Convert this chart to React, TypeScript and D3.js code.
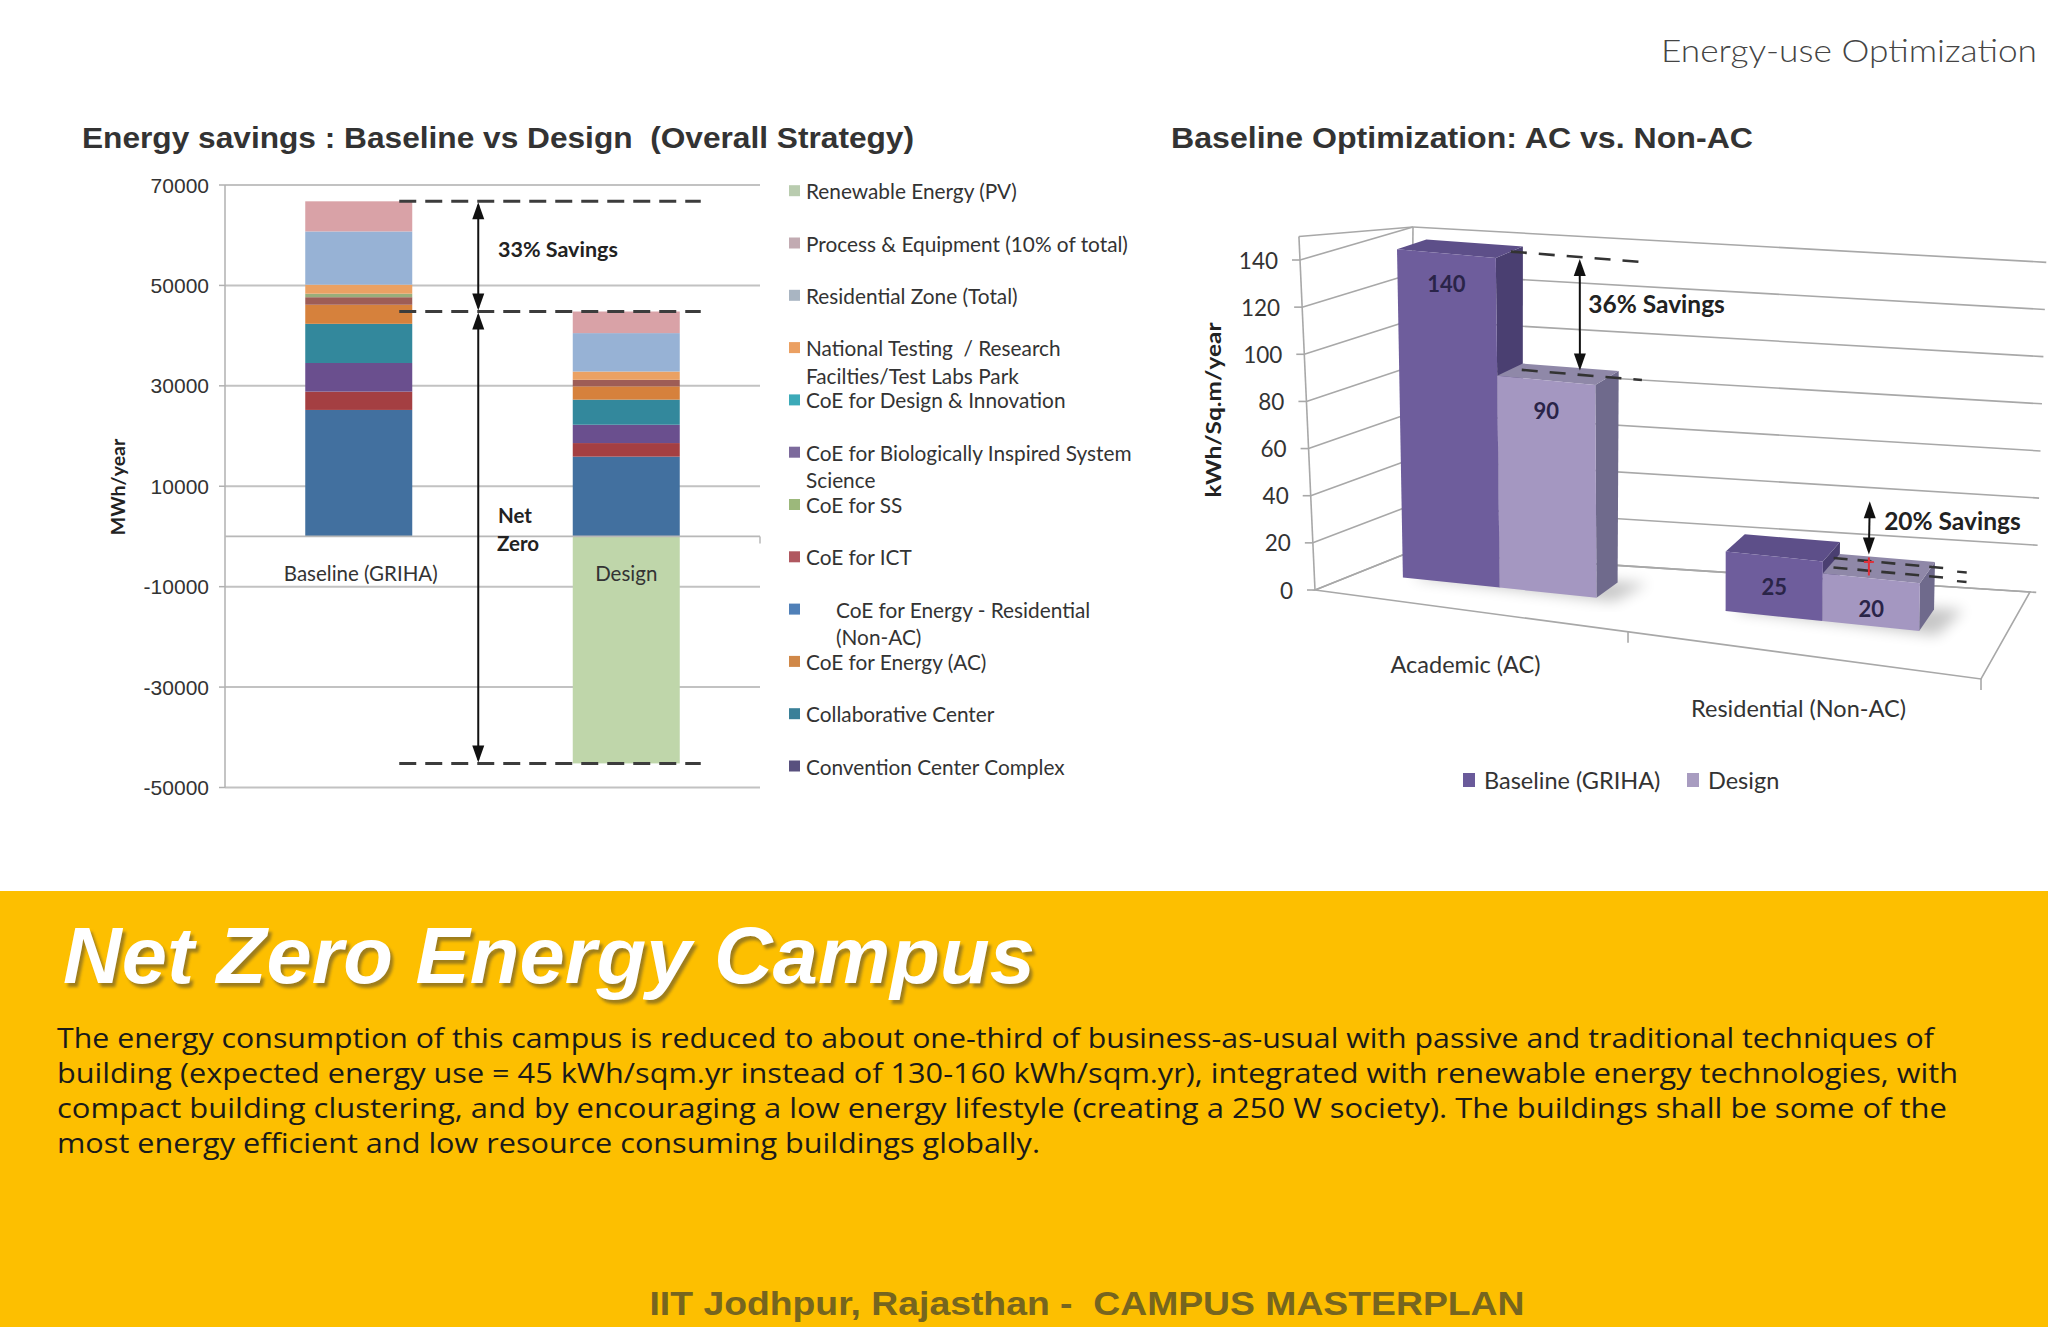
import React from "react";
import * as d3 from "d3";

// ---------------- LEFT CHART DATA ----------------
const stackCategories = ["Baseline (GRIHA)", "Design"];
const stackSeries = [
  "CoE for Energy - Residential (Non-AC)",
  "CoE for ICT",
  "CoE for Biologically Inspired System Science",
  "Collaborative Center",
  "CoE for Energy (AC)",
  "Convention Center Complex",
  "CoE for SS",
  "CoE for Design & Innovation",
  "National Testing / Research Facilties/Test Labs Park",
  "Residential Zone (Total)",
  "Process & Equipment (10% of total)",
  "Renewable Energy (PV)",
];
const baselineValues = [25200, 3650, 5700, 7800, 3800, 1500, 700, 0, 1800, 10600, 6000, 0];
const designValues = [15900, 2700, 3650, 5000, 2650, 1300, 0, 0, 1650, 7650, 4300, -45200];
const leftTicks = [70000, 50000, 30000, 10000, -10000, -30000, -50000];

const legendItems = [
  { key: "Renewable Energy (PV)", lines: ["Renewable Energy (PV)"] },
  { key: "Process & Equipment (10% of total)", lines: ["Process & Equipment (10% of total)"] },
  { key: "Residential Zone (Total)", lines: ["Residential Zone (Total)"] },
  { key: "National Testing / Research Facilties/Test Labs Park", lines: ["National Testing  / Research", "Facilties/Test Labs Park"] },
  { key: "CoE for Design & Innovation", lines: ["CoE for Design & Innovation"] },
  { key: "CoE for Biologically Inspired System Science", lines: ["CoE for Biologically Inspired System", "Science"] },
  { key: "CoE for SS", lines: ["CoE for SS"] },
  { key: "CoE for ICT", lines: ["CoE for ICT"] },
  { key: "CoE for Energy - Residential (Non-AC)", lines: ["CoE for Energy - Residential", "(Non-AC)"] },
  { key: "CoE for Energy (AC)", lines: ["CoE for Energy (AC)"] },
  { key: "Collaborative Center", lines: ["Collaborative Center"] },
  { key: "Convention Center Complex", lines: ["Convention Center Complex"] },
];

// ---------------- RIGHT CHART DATA ----------------
const acCategories = ["Academic (AC)", "Residential (Non-AC)"];
const acSeries = ["Baseline (GRIHA)", "Design"];
const acBaseline = [140, 25];
const acDesign = [90, 20];
const acTicks = [0, 20, 40, 60, 80, 100, 120, 140];

// ---------------- STYLES ----------------
const barColors: Record<string, string> = {
  "CoE for Energy - Residential (Non-AC)": "#42709f",
  "CoE for ICT": "#a43f42",
  "CoE for Biologically Inspired System Science": "#6a4f8e",
  "Collaborative Center": "#33889c",
  "CoE for Energy (AC)": "#d6813c",
  "Convention Center Complex": "#9e5d56",
  "CoE for SS": "#9aae7b",
  "CoE for Design & Innovation": "#3eaab6",
  "National Testing / Research Facilties/Test Labs Park": "#eba163",
  "Residential Zone (Total)": "#97b2d5",
  "Process & Equipment (10% of total)": "#d9a2a7",
  "Renewable Energy (PV)": "#bfd6aa",
};
const legendColors: Record<string, string> = {
  "Renewable Energy (PV)": "#b9ccaf",
  "Process & Equipment (10% of total)": "#c2abb2",
  "Residential Zone (Total)": "#a9b5c2",
  "National Testing / Research Facilties/Test Labs Park": "#eba062",
  "CoE for Design & Innovation": "#3caab8",
  "CoE for Biologically Inspired System Science": "#7c6a9c",
  "CoE for SS": "#9cb87b",
  "CoE for ICT": "#b05860",
  "CoE for Energy - Residential (Non-AC)": "#5080b8",
  "CoE for Energy (AC)": "#d08848",
  "Collaborative Center": "#3a8098",
  "Convention Center Complex": "#58507e",
};
const barFaces: Record<string, { front: string; top: string; side: string; legend: string }> = {
  "Baseline (GRIHA)": { front: "#6e5d9c", top: "#5d4f89", side: "#4a3f71", legend: "#6a5a9a" },
  Design: { front: "#a497c1", top: "#8f88a8", side: "#6f6a8c", legend: "#a89cc0" },
};

const F_ARIAL = "'Liberation Sans', Arial, sans-serif";
const F_CAL = "Lato, 'Open Sans', sans-serif";
const INK = "#333";

type Pt = [number, number];
const lerp = (a: Pt, b: Pt, s: number): Pt => [a[0] + (b[0] - a[0]) * s, a[1] + (b[1] - a[1]) * s];

// 3D box corners (screen) for right chart: u across, z depth, v value
const BOX = {
  FLB: [1315, 590] as Pt,
  FRB: [1981, 679] as Pt,
  BLB: [1410, 552] as Pt,
  BRB: [2030, 592] as Pt,
  FLT: [1300, 260] as Pt,
  FRT: [1985, 337] as Pt,
  BLT: [1413, 227] as Pt,
  BRT: [2040, 262] as Pt,
};

export default function App() {
  // ---------- left chart ----------
  const yL = d3.scaleLinear().domain([-50000, 70000]).range([787.5, 185]);
  const xL = d3.scaleBand<string>().domain(stackCategories).range([225, 760]).paddingInner(0.6).paddingOuter(0.3);
  const rows = stackCategories.map((c, i) => {
    const r: any = { cat: c };
    stackSeries.forEach((s, j) => (r[s] = i === 0 ? baselineValues[j] : designValues[j]));
    return r;
  });
  const stacked = d3.stack<any>().keys(stackSeries).offset(d3.stackOffsetDiverging)(rows);
  const bw = xL.bandwidth();
  const baseTotal = d3.sum(baselineValues.filter((v) => v > 0));
  const designTotal = d3.sum(designValues.filter((v) => v > 0));
  const pvTotal = d3.sum(designValues.filter((v) => v < 0));
  const dashX0 = (xL(stackCategories[0]) as number) + bw - 13;
  const dashX1 = (xL(stackCategories[1]) as number) + bw + 21;
  const arrowX = (xL(stackCategories[0]) as number) + bw + 66;

  const arrowHead = (x: number, y: number, dir: 1 | -1) =>
    `M${x},${y} L${x - 6},${y + dir * 17} L${x + 6},${y + dir * 17} Z`;

  // ---------- right chart ----------
  const vR = d3.scaleLinear().domain([0, 140]).range([0, 1]);
  const proj = (u: number, z: number, v: number): Pt => {
    const t = vR(v);
    const fb = lerp(BOX.FLB, BOX.FRB, u);
    const bb = lerp(BOX.BLB, BOX.BRB, u);
    const ft = lerp(BOX.FLT, BOX.FRT, u);
    const bt = lerp(BOX.BLT, BOX.BRT, u);
    return lerp(lerp(fb, bb, z), lerp(ft, bt, z), t);
  };
  const poly = (pts: Pt[]) => pts.map((p) => `${p[0].toFixed(1)},${p[1].toFixed(1)}`).join(" ");
  const xR = d3.scaleBand<string>().domain(acCategories).range([-0.06, 1]).paddingInner(0.4).paddingOuter(0.26);
  const xSub = d3.scaleBand<string>().domain(acSeries).range([0, xR.bandwidth()]);
  const z0 = 0.45,
    z1 = 0.72;
  const bars = acCategories.flatMap((c, i) =>
    acSeries.map((s) => {
      const v = s === acSeries[0] ? acBaseline[i] : acDesign[i];
      const u0 = (xR(c) as number) + (xSub(s) as number);
      const u1 = u0 + xSub.bandwidth();
      return { c, s, v, u0, u1 };
    })
  );
  const boundaryU = (xR(acCategories[1]) as number) - (xR.step() - xR.bandwidth()) / 2;
  const line = (a: Pt, b: Pt, key: string, stroke = "#a8a8a8", sw = 1.6) => (
    <line key={key} x1={a[0]} y1={a[1]} x2={b[0]} y2={b[1]} stroke={stroke} strokeWidth={sw} />
  );

  // annotation anchors (right)
  const acU1 = bars[0].u1;
  const dash36a = [proj(acU1, 0.6, acBaseline[0]), proj(0.42, 0.6, acBaseline[0])];
  const dash36b = [proj(acU1 + 0.016, 0.6, acDesign[0]), proj(0.422, 0.6, acDesign[0])];
  const arr36Top = proj(0.326, 0.6, acBaseline[0]);
  const arr36Bot = proj(0.326, 0.6, acDesign[0] + 1);
  const txt36 = proj(0.336, 0.6, 117);
  const arr20Top = proj(0.777, 0.6, 48);
  const arr20Bot = proj(0.777, 0.6, acDesign[1] + 4);
  const txt20 = proj(0.8, 0.6, 38);
  const d20a = [proj(0.722, 0.6, acDesign[1] + 2), proj(0.895, 0.6, acDesign[1] + 2)];
  const d20b = [proj(0.722, 0.6, acDesign[1] - 2), proj(0.895, 0.6, acDesign[1] - 2)];
  const eqA = [proj(0.915, 0.6, acDesign[1] + 1), proj(0.93, 0.6, acDesign[1] + 1)];
  const eqB = [proj(0.915, 0.6, acDesign[1] - 3), proj(0.93, 0.6, acDesign[1] - 3)];

  const paragraph = [
    { t: "The energy consumption of this campus is reduced to about one-third of business-as-usual with passive and traditional techniques of", w: 1877 },
    { t: "building (expected energy use = 45 kWh/sqm.yr instead of 130-160 kWh/sqm.yr), integrated with renewable energy technologies, with", w: 1901 },
    { t: "compact building clustering, and by encouraging a low energy lifestyle (creating a 250 W society). The buildings shall be some of the", w: 1890 },
    { t: "most energy efficient and low resource consuming buildings globally.", w: 983 },
  ];

  return (
    <svg
      width={2048}
      height={1327}
      viewBox="0 0 2048 1327"
      style={{ position: "absolute", left: 0, top: 0, display: "block", background: "#fff" }}
    >
      <defs>
        <filter id="soft" x="-30%" y="-30%" width="160%" height="160%">
          <feGaussianBlur stdDeviation="7" />
        </filter>
        <filter id="tsh" x="-10%" y="-30%" width="120%" height="160%">
          <feGaussianBlur stdDeviation="1.5" />
        </filter>
      </defs>
      <rect x={0} y={0} width={2048} height={1327} fill="#fff" />

      {/* header */}
      <text x={2037} y={62} textAnchor="end" fontFamily={F_CAL} fontWeight={300} fontSize={31} fill="#444" textLength={376} lengthAdjust="spacingAndGlyphs">
        Energy-use Optimization
      </text>
      <text x={82} y={148} fontFamily={F_ARIAL} fontWeight="bold" fontSize={29} fill={INK} textLength={832} lengthAdjust="spacingAndGlyphs" style={{ whiteSpace: "pre" }}>
        {"Energy savings : Baseline vs Design  (Overall Strategy)"}
      </text>
      <text x={1171} y={148} fontFamily={F_ARIAL} fontWeight="bold" fontSize={29} fill={INK} textLength={582} lengthAdjust="spacingAndGlyphs">
        Baseline Optimization: AC vs. Non-AC
      </text>

      {/* ---------- LEFT CHART ---------- */}
      <g>
        {leftTicks.map((t) => (
          <g key={t}>
            <line x1={225} x2={760} y1={yL(t)} y2={yL(t)} stroke="#c2c2c2" strokeWidth={2} />
            <line x1={219} x2={225} y1={yL(t)} y2={yL(t)} stroke="#b0b0b0" strokeWidth={1.5} />
            <text x={209} y={yL(t)} textAnchor="end" dominantBaseline="central" fontFamily={F_ARIAL} fontSize={21} fill={INK}>
              {t}
            </text>
          </g>
        ))}
        <line x1={225} x2={225} y1={yL(70000)} y2={yL(-50000)} stroke="#b0b0b0" strokeWidth={1.5} />
        {stacked.map((layer) =>
          layer.map((d, i) => {
            const y0 = yL(d[0]);
            const y1 = yL(d[1]);
            if (Math.abs(y1 - y0) < 0.01) return null;
            return (
              <rect
                key={layer.key + i}
                x={xL(stackCategories[i])}
                width={bw}
                y={Math.min(y0, y1)}
                height={Math.abs(y1 - y0)}
                fill={barColors[layer.key]}
              />
            );
          })
        )}
        <line x1={225} x2={760} y1={yL(0)} y2={yL(0)} stroke="#b8b8b8" strokeWidth={1.8} />
        <line x1={760} x2={760} y1={yL(0)} y2={yL(0) + 7} stroke="#b8b8b8" strokeWidth={1.5} />
        {stackCategories.map((c) => (
          <text key={c} x={(xL(c) as number) + bw / 2 + (c === stackCategories[0] ? 2 : 0)} y={573} textAnchor="middle" dominantBaseline="central" fontFamily={F_CAL} fontSize={20.5} fill={INK}>
            {c}
          </text>
        ))}
        <text transform={`translate(117,487) rotate(-90)`} textAnchor="middle" dominantBaseline="central" fontFamily={F_CAL} fontWeight="bold" fontSize={19.5} fill="#222">
          MWh/year
        </text>

        {/* annotations */}
        {[baseTotal, designTotal, pvTotal].map((v, i) => (
          <line key={"dl" + i} x1={dashX0} x2={dashX1} y1={yL(v)} y2={yL(v)} stroke="#3c3c3c" strokeWidth={3} strokeDasharray="17 9" />
        ))}
        <line x1={arrowX} x2={arrowX} y1={yL(baseTotal) + 4} y2={yL(designTotal) - 4} stroke="#111" strokeWidth={2} />
        <path d={arrowHead(arrowX, yL(baseTotal) + 1, 1)} fill="#111" />
        <path d={arrowHead(arrowX, yL(designTotal) - 1, -1)} fill="#111" />
        <line x1={arrowX} x2={arrowX} y1={yL(designTotal) + 4} y2={yL(pvTotal) - 4} stroke="#111" strokeWidth={2} />
        <path d={arrowHead(arrowX, yL(designTotal) + 1, 1)} fill="#111" />
        <path d={arrowHead(arrowX, yL(pvTotal) - 1, -1)} fill="#111" />
        <text x={498} y={249} dominantBaseline="central" fontFamily={F_CAL} fontWeight="bold" fontSize={21.5} fill="#222">
          33% Savings
        </text>
        <text x={498} y={515} dominantBaseline="central" fontFamily={F_CAL} fontWeight="bold" fontSize={20.5} fill="#222">
          Net
        </text>
        <text x={497} y={543} dominantBaseline="central" fontFamily={F_CAL} fontWeight="bold" fontSize={20.5} fill="#222">
          Zero
        </text>

        {/* legend */}
        {legendItems.map((it, k) => {
          const y = 190.7 + k * 52.3;
          const indent = it.key === "CoE for Energy - Residential (Non-AC)" ? 30 : 0;
          return (
            <g key={it.key}>
              <rect x={789} y={y - 5.5} width={11} height={11} fill={legendColors[it.key]} />
              {it.lines.map((ln, j) => (
                <text key={j} x={806 + indent} y={y + j * 27.5} dominantBaseline="central" fontFamily={F_CAL} fontSize={20.8} fill={INK} style={{ whiteSpace: "pre" }}>
                  {ln}
                </text>
              ))}
            </g>
          );
        })}
      </g>

      {/* ---------- RIGHT CHART ---------- */}
      <g>
        {/* floor */}
        <polygon points={poly([proj(0, 0, 0), proj(1, 0, 0), proj(1, 1, 0), proj(0, 1, 0)])} fill="#fff" stroke="#a8a8a8" strokeWidth={1.6} />
        {/* back wall and left wall gridlines */}
        {acTicks.map((t) => (
          <g key={"g" + t}>
            {line(proj(0, 1, t), proj(1.01, 1, t), "bw" + t)}
            {line(proj(0, 0, t), proj(0, 1, t), "lw" + t)}
            {line(proj(0, 0, t), [proj(0, 0, t)[0] - 8, proj(0, 0, t)[1]], "tk" + t)}
            <text x={proj(0, 0, t)[0] - 22} y={proj(0, 0, t)[1]} textAnchor="end" dominantBaseline="central" fontFamily={F_CAL} fontSize={22.5} fill={INK}>
              {t}
            </text>
          </g>
        ))}
        {line(proj(0, 0, 150), proj(0, 1, 140), "lwtop")}
        {line(proj(0, 0, 0), proj(0, 0, 150), "axis")}
        {line(proj(0, 1, 0), proj(0, 1, 140), "backleft")}
        {[boundaryU, 1].map((u) => line(proj(u, 0, 0), [proj(u, 0, 0)[0], proj(u, 0, 0)[1] + 11], "ct" + u))}

        {/* shadows */}
        {acCategories.map((c) => {
          const g0 = xR(c) as number;
          const g1 = g0 + xR.bandwidth();
          return (
            <polygon
              key={"sh" + c}
              points={poly([proj(g0 + 0.01, z0 + 0.02, 0), proj(g1 + 0.03, z0 - 0.03, 0), proj(g1 + 0.045, z1 + 0.02, 0), proj(g0 + 0.02, z1, 0)])}
              fill="#000"
              opacity={0.22}
              filter="url(#soft)"
            />
          );
        })}

        {/* bars */}
        {bars.map((b) => {
          const f = barFaces[b.s];
          const front = [proj(b.u0, z0, 0), proj(b.u1, z0, 0), proj(b.u1, z0, b.v), proj(b.u0, z0, b.v)];
          const top = [proj(b.u0, z0, b.v), proj(b.u1, z0, b.v), proj(b.u1, z1, b.v), proj(b.u0, z1, b.v)];
          const side = [proj(b.u1, z0, 0), proj(b.u1, z1, 0), proj(b.u1, z1, b.v), proj(b.u1, z0, b.v)];
          const ft = proj((b.u0 + b.u1) / 2, z0, b.v);
          return (
            <g key={b.c + b.s}>
              <polygon points={poly(side)} fill={f.side} />
              <polygon points={poly(top)} fill={f.top} />
              <polygon points={poly(front)} fill={f.front} />
              <text x={ft[0]} y={ft[1] + 30} textAnchor="middle" dominantBaseline="central" fontFamily={F_CAL} fontWeight="bold" fontSize={22} fill="#2a2448">
                {b.v}
              </text>
            </g>
          );
        })}

        {/* 36% annotation */}
        <line x1={dash36a[0][0]} y1={dash36a[0][1]} x2={dash36a[1][0]} y2={dash36a[1][1]} stroke="#333" strokeWidth={2.6} strokeDasharray="16 12" />
        <line x1={dash36b[0][0]} y1={dash36b[0][1]} x2={dash36b[1][0]} y2={dash36b[1][1]} stroke="#333" strokeWidth={2.6} strokeDasharray="16 12" />
        <line x1={arr36Top[0]} y1={arr36Top[1] + 6} x2={arr36Bot[0]} y2={arr36Bot[1] - 6} stroke="#111" strokeWidth={2} />
        <path d={arrowHead(arr36Top[0], arr36Top[1] + 2, 1)} fill="#111" />
        <path d={arrowHead(arr36Bot[0], arr36Bot[1] - 2, -1)} fill="#111" />
        <text x={txt36[0] + 2} y={txt36[1] - 8} dominantBaseline="central" fontFamily={F_CAL} fontWeight="bold" fontSize={24.5} fill="#222">
          36% Savings
        </text>

        {/* 20% annotation */}
        <line x1={d20a[0][0]} y1={d20a[0][1]} x2={d20a[1][0]} y2={d20a[1][1]} stroke="#333" strokeWidth={2.6} strokeDasharray="14 10" />
        <line x1={d20b[0][0]} y1={d20b[0][1]} x2={d20b[1][0]} y2={d20b[1][1]} stroke="#333" strokeWidth={2.6} strokeDasharray="14 10" />
        <line x1={eqA[0][0]} y1={eqA[0][1]} x2={eqA[1][0]} y2={eqA[1][1]} stroke="#333" strokeWidth={2.4} />
        <line x1={eqB[0][0]} y1={eqB[0][1]} x2={eqB[1][0]} y2={eqB[1][1]} stroke="#333" strokeWidth={2.4} />
        <line x1={arr20Top[0]} y1={arr20Top[1] + 6} x2={arr20Bot[0]} y2={arr20Bot[1] - 6} stroke="#111" strokeWidth={2} />
        <path d={arrowHead(arr20Top[0], arr20Top[1] + 2, 1)} fill="#111" />
        <path d={arrowHead(arr20Bot[0], arr20Bot[1] - 2, -1)} fill="#111" />
        <line x1={arr20Bot[0]} y1={arr20Bot[1] + 1} x2={arr20Bot[0]} y2={d20b[0][1] + 8} stroke="#e0303a" strokeWidth={2} />
        <line x1={arr20Bot[0] - 5} y1={d20a[0][1] + 4} x2={arr20Bot[0] + 5} y2={d20a[0][1] + 4} stroke="#e0303a" strokeWidth={2} />
        <text x={txt20[0]} y={txt20[1] - 4} dominantBaseline="central" fontFamily={F_CAL} fontWeight="bold" fontSize={24.5} fill="#222">
          20% Savings
        </text>

        {/* category labels */}
        {acCategories.map((c) => {
          const p = proj((xR(c) as number) + xR.bandwidth() / 2, 0, 0);
          return (
            <text key={c} x={p[0] + 4} y={p[1] + 54} textAnchor="middle" dominantBaseline="central" fontFamily={F_CAL} fontSize={23.5} fill={INK}>
              {c}
            </text>
          );
        })}
        <text transform={`translate(1212,410) rotate(-90)`} textAnchor="middle" dominantBaseline="central" fontFamily={F_CAL} fontWeight="bold" fontSize={21} fill="#222" textLength={175} lengthAdjust="spacingAndGlyphs">
          kWh/Sq.m/year
        </text>

        {/* legend */}
        {acSeries.map((s, i) => {
          const x = i === 0 ? 1463 : 1687;
          return (
            <g key={s}>
              <rect x={x} y={773} width={12} height={14} fill={barFaces[s].legend} />
              <text x={x + 21} y={780} dominantBaseline="central" fontFamily={F_CAL} fontSize={23.5} fill={INK}>
                {s}
              </text>
            </g>
          );
        })}
      </g>

      {/* ---------- BOTTOM BAND ---------- */}
      <rect x={0} y={891} width={2048} height={436} fill="#fdbf00" />
      <text x={66} y={987} fontFamily={F_ARIAL} fontWeight="bold" fontStyle="italic" fontSize={80} fill="#6b5a2a" opacity={0.65} textLength={972} lengthAdjust="spacingAndGlyphs" filter="url(#tsh)">
        Net Zero Energy Campus
      </text>
      <text x={63} y={983} fontFamily={F_ARIAL} fontWeight="bold" fontStyle="italic" fontSize={80} fill="#fff" textLength={972} lengthAdjust="spacingAndGlyphs">
        Net Zero Energy Campus
      </text>
      {paragraph.map((p, i) => (
        <text key={i} x={57} y={1048 + i * 35} fontFamily="'Open Sans', Lato, sans-serif" fontSize={27} fill="#1a1a1a" textLength={p.w} lengthAdjust="spacingAndGlyphs">
          {p.t}
        </text>
      ))}
      <text x={1087} y={1315} textAnchor="middle" fontFamily={F_ARIAL} fontWeight="bold" fontSize={34} fill="#76651f" textLength={875} lengthAdjust="spacingAndGlyphs" style={{ whiteSpace: "pre" }}>
        {"IIT Jodhpur, Rajasthan -  CAMPUS MASTERPLAN"}
      </text>
    </svg>
  );
}
